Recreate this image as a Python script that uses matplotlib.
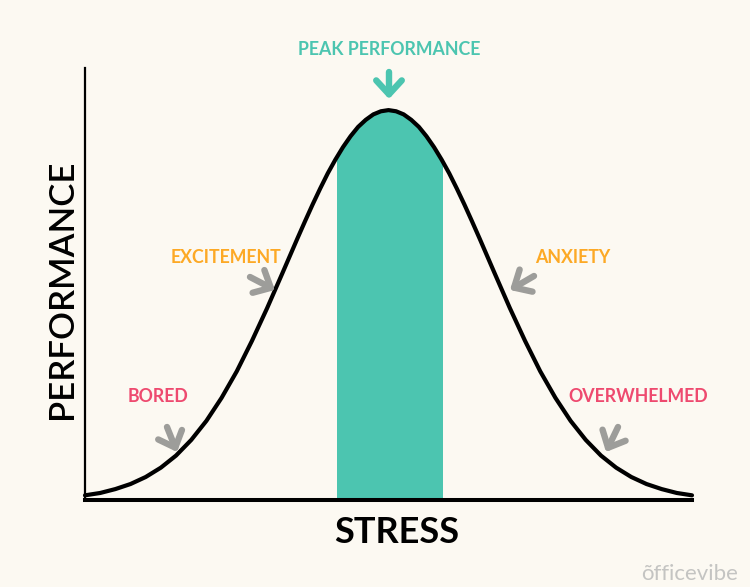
import matplotlib
matplotlib.use("Agg")
import matplotlib.pyplot as plt
from matplotlib.patches import FancyArrowPatch, Polygon

# ---- data ----
stress = [0.0, 0.25, 0.5, 0.75, 1.0, 1.25, 1.5, 1.75, 2.0, 2.25, 2.5, 2.75,
          3.0, 3.25, 3.5, 3.625, 3.75, 3.875, 4.0, 4.125, 4.25, 4.375, 4.5,
          4.625, 4.75, 4.875, 5.0, 5.125, 5.25, 5.375, 5.5, 5.625, 5.75,
          5.875, 6.0, 6.125, 6.25, 6.375, 6.5, 6.75, 7.0, 7.25, 7.5, 7.75,
          8.0, 8.25, 8.5, 8.75, 9.0, 9.25, 9.5, 9.75, 10.0]
performance = [0.012, 0.018, 0.028, 0.041, 0.059, 0.083, 0.114, 0.154, 0.203,
               0.262, 0.330, 0.408, 0.492, 0.581, 0.671, 0.715, 0.758, 0.799,
               0.838, 0.873, 0.905, 0.933, 0.957, 0.975, 0.989, 0.997, 1.000,
               0.997, 0.989, 0.975, 0.957, 0.933, 0.905, 0.873, 0.838, 0.799,
               0.758, 0.715, 0.671, 0.581, 0.492, 0.408, 0.330, 0.262, 0.203,
               0.154, 0.114, 0.083, 0.059, 0.041, 0.028, 0.018, 0.012]
peak_zone = [4.15, 5.90]          # stress range of the shaded band
zone_labels = ["BORED", "EXCITEMENT", "PEAK PERFORMANCE", "ANXIETY", "OVERWHELMED"]
x_label = "STRESS"
y_label = "PERFORMANCE"
brand = "õfficevibe"

# ---- styles ----
BG = "#FCF9F2"
TEAL = "#4CC5B0"
ORANGE = "#FDA925"
PINK = "#EE4A6F"
GRAY = "#9D9D9A"
W, H = 750, 587

fig = plt.figure(figsize=(W / 100, H / 100), dpi=100, facecolor=BG)
ax = fig.add_axes([85 / W, (H - 500) / H, 607 / W, 432 / H])
ax.set_facecolor(BG)
ax.set_xlim(0, 10)
ax.set_ylim(0, 1.108)
ax.set_xticks([])
ax.set_yticks([])
for s in ("top", "right"):
    ax.spines[s].set_visible(False)
ax.spines["left"].set_linewidth(1.6)
ax.spines["bottom"].set_linewidth(2.9)
ax.spines["bottom"].set_capstyle("projecting")

# shaded peak band, clipped under the curve
under = Polygon(list(zip(stress, performance)) + [(stress[-1], 0), (stress[0], 0)],
                closed=True, transform=ax.transData)
bars = ax.bar([(peak_zone[0] + peak_zone[1]) / 2], [max(performance)],
              width=peak_zone[1] - peak_zone[0], color=TEAL, zorder=2)
for b in bars:
    b.set_clip_path(under)

ax.plot(stress, performance, color="black", lw=3.0, zorder=3,
        solid_capstyle="round", solid_joinstyle="round", clip_on=False)


def dpt(xp, yp):
    """pixel position (from top-left) -> data coordinates"""
    return tuple(ax.transData.inverted().transform((xp, H - yp)))


def arrow(p0, p1, color, lw=4.6):
    a = FancyArrowPatch(dpt(*p0), dpt(*p1),
                        arrowstyle="->,head_length=0.5,head_width=0.46",
                        mutation_scale=20, lw=lw, color=color,
                        shrinkA=0, shrinkB=0, zorder=4, clip_on=False)
    a.set_capstyle("round")
    a.set_joinstyle("round")
    ax.add_patch(a)


arrow((389, 72), (389, 99), TEAL)
arrow((250, 277), (275, 290), GRAY)
arrow((534, 276), (510, 290), GRAY)
arrow((167, 427), (177, 452), GRAY)
arrow((618, 427), (606, 452), GRAY)

lab_font = dict(family="Lato", fontweight="bold", fontsize=12.8)


def ftext(xp, yp, s, **kw):
    fig.text(xp / W, 1 - yp / H, s, **kw)


ftext(389, 55, zone_labels[2], color=TEAL, ha="center", va="baseline", **lab_font)
ftext(226, 263, zone_labels[1], color=ORANGE, ha="center", va="baseline", **lab_font)
ftext(573, 263, zone_labels[3], color=ORANGE, ha="center", va="baseline", **lab_font)
ftext(158, 402, zone_labels[0], color=PINK, ha="center", va="baseline", **lab_font)
ftext(638, 402, zone_labels[4], color=PINK, ha="center", va="baseline", **lab_font)

ftext(397, 543, x_label, color="black", ha="center", va="baseline",
      family="Lato", fontweight="bold", fontsize=26)
ftext(72, 289, y_label, color="black", ha="center", va="baseline",
      rotation=90, rotation_mode="anchor",
      family="Lato", fontweight="semibold", fontsize=25)
ftext(690, 580, brand, color="#C4C4C2", ha="center", va="baseline",
      family="Lato", fontweight="normal", fontsize=16)

fig.savefig("out.png", dpi=100, facecolor=BG)
